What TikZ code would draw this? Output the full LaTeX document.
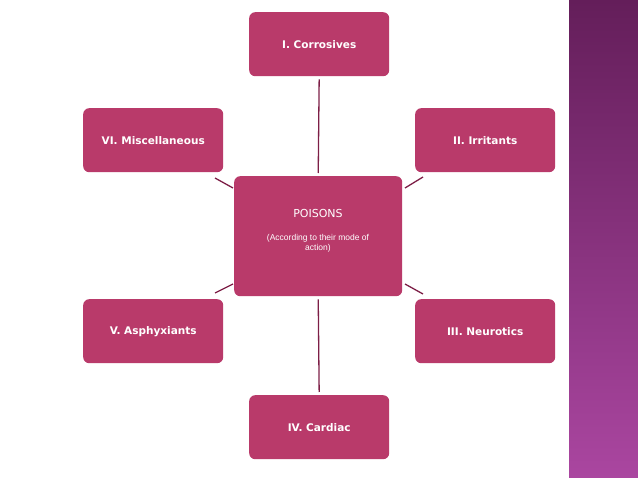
\documentclass[tikz,border=0pt]{standalone}
\usepackage{fontspec}
\setmainfont{DejaVu Sans}
\newfontfamily\arialf{Liberation Sans}
\newcommand\subf{\arialf\fontsize{8.5}{10}\selectfont}
\begin{document}
\begin{tikzpicture}[x=1pt,y=-1pt,
 box/.style={draw=none,fill={rgb,255:red,185;green,58;blue,106},rounded corners=6pt,text=white,font=\bfseries\fontsize{10.5}{12}\selectfont,minimum width=140pt,minimum height=64pt,anchor=north west},
 conn/.style={draw={rgb,255:red,125;green,30;blue,70},line width=1.3pt}]
\useasboundingbox (0,0) rectangle (638,478);
\shade[top color={rgb,255:red,100;green,30;blue,90},bottom color={rgb,255:red,170;green,70;blue,160}] (569,0) rectangle (638,478);
\node[box] (t) at (249,12) {I. Corrosives};
\node[box] (ul) at (83,108) {VI. Miscellaneous};
\node[box] (ur) at (415,108) {II. Irritants};
\node[box] (ll) at (83,299) {V. Asphyxiants};
\node[box] (lr) at (415,299) {III. Neurotics};
\node[box] (b) at (249,395) {IV. Cardiac};
\node[box,minimum width=168pt,minimum height=120pt] (c) at (234,176) {};
\node[text=white,align=center,font=\fontsize{11}{13}\selectfont] (ct) at (318,213) {POISONS};
\node[text=white,align=center,font=\subf] (cs) at (318,243) {(According to their mode of\\action)};
\coordinate (a1) at (215,178); \coordinate (a2) at (233,188);
\coordinate (b1) at (405,188); \coordinate (b2) at (423,177);
\coordinate (c1) at (215,293); \coordinate (c2) at (233,284);
\coordinate (d1) at (405,284); \coordinate (d2) at (423,294);
\draw[conn,shorten <=3pt,shorten >=3pt] (t.south) -- (c.north);
\draw[conn,shorten <=3pt,shorten >=3pt] (c.south) -- (b.north);
\draw[conn] (a1) -- (a2);
\draw[conn] (b1) -- (b2);
\draw[conn] (c1) -- (c2);
\draw[conn] (d1) -- (d2);
\end{tikzpicture}
\end{document}
